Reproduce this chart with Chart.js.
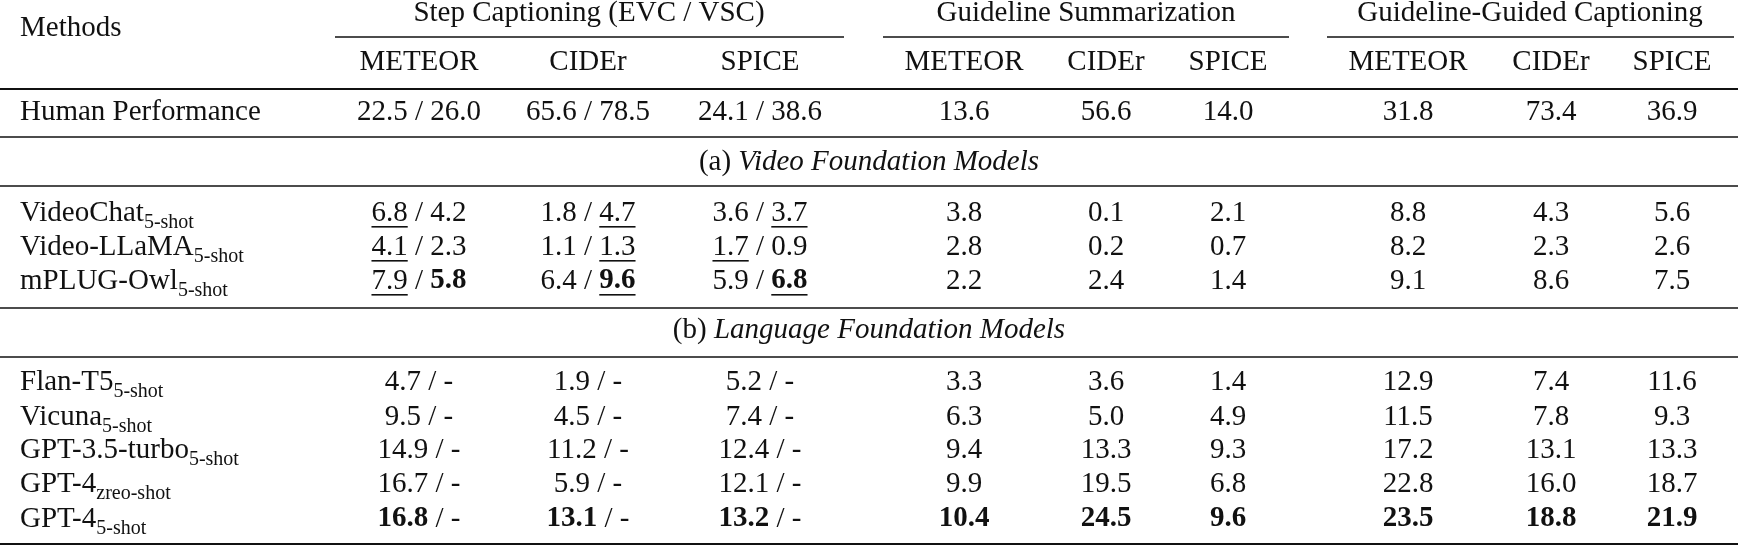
<!DOCTYPE html>
<html><head><meta charset="utf-8">
<script src="https://cdn.jsdelivr.net/npm/chart.js@4/dist/chart.umd.min.js"></script>
<style>html,body{margin:0;padding:0;background:#fff}#wrap{width:1738px;height:547px}</style>
</head><body><div id="wrap"><canvas id="c"></canvas></div>
<script>
// ---- data ----
const groups = ["Step Captioning (EVC / VSC)", "Guideline Summarization", "Guideline-Guided Captioning"];
const metrics = ["METEOR", "CIDEr", "SPICE", "METEOR", "CIDEr", "SPICE", "METEOR", "CIDEr", "SPICE"];
const sections = ["(a) ", "Video Foundation Models", "(b) ", "Language Foundation Models"];
const methods = ["Human Performance", "VideoChat", "Video-LLaMA", "mPLUG-Owl", "Flan-T5", "Vicuna", "GPT-3.5-turbo", "GPT-4", "GPT-4"];
const shots = ["", "5-shot", "5-shot", "5-shot", "5-shot", "5-shot", "5-shot", "zreo-shot", "5-shot"];
// "_" toggles underline, "*" toggles bold
const scMeteor = ["22.5 / 26.0", "_6.8_ / 4.2", "_4.1_ / 2.3", "_7.9_ / *5.8*", "4.7 / -", "9.5 / -", "14.9 / -", "16.7 / -", "*16.8* / -"];
const scCider  = ["65.6 / 78.5", "1.8 / _4.7_", "1.1 / _1.3_", "6.4 / *_9.6_*", "1.9 / -", "4.5 / -", "11.2 / -", "5.9 / -", "*13.1* / -"];
const scSpice  = ["24.1 / 38.6", "3.6 / _3.7_", "_1.7_ / 0.9", "5.9 / *_6.8_*", "5.2 / -", "7.4 / -", "12.4 / -", "12.1 / -", "*13.2* / -"];
const gsMeteor = ["13.6", "3.8", "2.8", "2.2", "3.3", "6.3", "9.4", "9.9", "*10.4*"];
const gsCider  = ["56.6", "0.1", "0.2", "2.4", "3.6", "5.0", "13.3", "19.5", "*24.5*"];
const gsSpice  = ["14.0", "2.1", "0.7", "1.4", "1.4", "4.9", "9.3", "6.8", "*9.6*"];
const ggMeteor = ["31.8", "8.8", "8.2", "9.1", "12.9", "11.5", "17.2", "22.8", "*23.5*"];
const ggCider  = ["73.4", "4.3", "2.3", "8.6", "7.4", "7.8", "13.1", "16.0", "*18.8*"];
const ggSpice  = ["36.9", "5.6", "2.6", "7.5", "11.6", "9.3", "13.3", "18.7", "*21.9*"];
const columns = [scMeteor, scCider, scSpice, gsMeteor, gsCider, gsSpice, ggMeteor, ggCider, ggSpice];

// ---- layout (scale units = pixels) ----
const colX = [419, 588, 760, 964, 1106, 1228, 1408, 1551, 1672];
const groupX = [589, 1086, 1530];
const groupRule = [[335, 844], [883, 1289], [1327, 1734]];
const rowY = [112, 213, 247, 281, 382, 417, 450, 484, 519];
const secY = [162, 330];
const FONT = '"Liberation Serif","DejaVu Serif",serif';
const FS = 29;

function parse(s) {
  const segs = []; let b = false, u = false, cur = "";
  for (const ch of s) {
    if (ch === "*" || ch === "_") {
      if (cur) segs.push({t: cur, b, u}); cur = "";
      if (ch === "*") b = !b; else u = !u;
    } else cur += ch;
  }
  if (cur) segs.push({t: cur, b, u});
  return segs;
}
function drawCell(ctx, s, cx, cy) {
  const segs = parse(s);
  let w = 0;
  segs.forEach(g => { ctx.font = (g.b ? "bold " : "") + FS + "px " + FONT; g.w = ctx.measureText(g.t).width; w += g.w; });
  let x = cx - w / 2;
  segs.forEach(g => {
    ctx.font = (g.b ? "bold " : "") + FS + "px " + FONT;
    ctx.fillText(g.t, x, cy);
    if (g.u) { ctx.fillRect(x, cy + 13, g.w, 1.6); }
    x += g.w;
  });
}

const tablePlugin = {
  id: "table",
  afterDraw(chart) {
    const ctx = chart.ctx, X = v => chart.scales.x.getPixelForValue(v), Y = v => chart.scales.y.getPixelForValue(v);
    ctx.save();
    ctx.fillStyle = "#111"; ctx.strokeStyle = "#111";
    ctx.textBaseline = "middle"; ctx.textAlign = "left";
    const hline = (x1, x2, y, lw) => { ctx.lineWidth = lw; ctx.beginPath(); ctx.moveTo(X(x1), Y(y)); ctx.lineTo(X(x2), Y(y)); ctx.stroke(); };
    // header
    ctx.font = FS + "px " + FONT;
    ctx.fillText("Methods", X(20), Y(28));
    ctx.textAlign = "center";
    groups.forEach((g, i) => ctx.fillText(g, X(groupX[i]), Y(13)));
    groupRule.forEach(r => hline(r[0], r[1], 37, 1.3));
    metrics.forEach((m, i) => ctx.fillText(m, X(colX[i]), Y(62)));
    hline(0, 1738, 89, 2);
    hline(0, 1738, 137, 1.3);
    hline(0, 1738, 186, 1.3);
    hline(0, 1738, 308, 1.3);
    hline(0, 1738, 357, 1.3);
    hline(0, 1738, 544, 2.2);
    // section titles
    [[0, 1], [2, 3]].forEach((p, k) => {
      ctx.font = FS + "px " + FONT; const a = ctx.measureText(sections[p[0]]).width;
      ctx.font = "italic " + FS + "px " + FONT; const b = ctx.measureText(sections[p[1]]).width;
      let x = X(869) - (a + b) / 2;
      ctx.textAlign = "left";
      ctx.font = FS + "px " + FONT; ctx.fillText(sections[p[0]], x, Y(secY[k]));
      ctx.font = "italic " + FS + "px " + FONT; ctx.fillText(sections[p[1]], x + a, Y(secY[k]));
    });
    // rows
    rowY.forEach((ry, r) => {
      ctx.textAlign = "left";
      ctx.font = FS + "px " + FONT;
      ctx.fillText(methods[r], X(20), Y(ry));
      if (shots[r]) {
        const w = ctx.measureText(methods[r]).width;
        ctx.font = "20px " + FONT;
        ctx.fillText(shots[r], X(20) + w, Y(ry) + 10);
      }
      columns.forEach((col, c) => drawCell(ctx, col[r], X(colX[c]), Y(ry)));
    });
    ctx.restore();
  }
};

const pts = [];
rowY.forEach((ry, r) => colX.forEach((cx, c) => pts.push({x: cx, y: ry})));

new Chart(document.getElementById("c"), {
  type: "scatter",
  data: { datasets: [{ data: pts, pointRadius: 0, pointHoverRadius: 0 }] },
  options: {
    responsive: true, maintainAspectRatio: false, animation: false,
    layout: { padding: 0 },
    plugins: { legend: { display: false }, tooltip: { enabled: false } },
    events: [],
    scales: {
      x: { type: "linear", min: 0, max: 1738, display: false },
      y: { type: "linear", min: 0, max: 547, reverse: true, display: false }
    }
  },
  plugins: [tablePlugin]
});
</script></body></html>
